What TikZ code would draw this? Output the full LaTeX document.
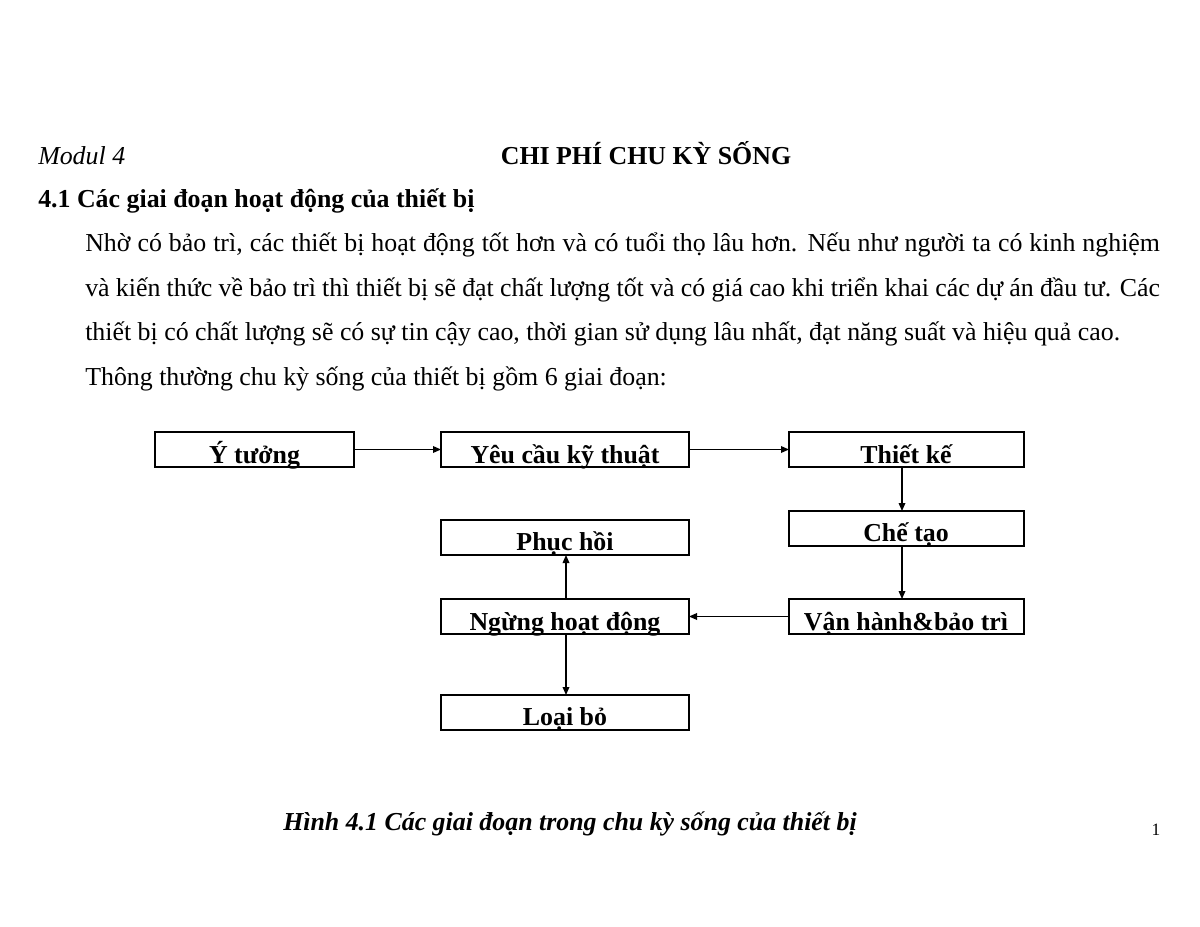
\documentclass[tikz,border=0pt]{standalone}
\usepackage{fontspec}
\setmainfont{Liberation Serif}
\usetikzlibrary{arrows.meta}
\begin{document}
\begin{tikzpicture}[x=0.75pt,y=-0.75pt,
 txt/.style={font=\fontsize{19.4}{21}\selectfont,inner sep=0pt,anchor=base west},
 bx/.style={draw,line width=0.8pt},
 blabel/.style={font=\fontsize{19.4}{21}\selectfont\bfseries,inner sep=0pt,anchor=base},
 arr/.style={-{Triangle[length=6pt,width=5pt]},line width=0.9pt}]
\useasboundingbox (0,0) rectangle (1200,927);
\node[txt,font=\fontsize{19.4}{21}\selectfont\itshape] (mod) at (38,165) {Modul 4};
\node[txt,anchor=base,font=\fontsize{19.4}{21}\selectfont\bfseries] (title) at (646,165) {CHI PHÍ CHU KỲ SỐNG};
\node[txt,font=\fontsize{19.4}{21}\selectfont\bfseries] (sec) at (38,208) {4.1 Các giai đoạn hoạt động của thiết bị};
\node[txt] (p1) at (85,252) {\makebox[806pt][s]{Nhờ có bảo trì, các thiết bị hoạt động tốt hơn và có tuổi thọ lâu hơn. Nếu như người ta có kinh nghiệm}};
\node[txt] (p2) at (85,297) {\makebox[806pt][s]{và kiến thức về bảo trì thì thiết bị sẽ đạt chất lượng tốt và có giá cao khi triển khai các dự án đầu tư. Các}};
\node[txt] (p3) at (85,341) {thiết bị có chất lượng sẽ có sự tin cậy cao, thời gian sử dụng lâu nhất, đạt năng suất và hiệu quả cao.};
\node[txt] (p4) at (85,386) {Thông thường chu kỳ sống của thiết bị gồm 6 giai đoạn:};

\draw[bx] (155,432) rectangle (354,467);
\node[blabel] (la) at (254.5,463) {Ý tưởng};
\draw[bx] (441,432) rectangle (689,467);
\node[blabel] (lb) at (565,463) {Yêu cầu kỹ thuật};
\draw[bx] (789,432) rectangle (1024,467);
\node[blabel] (lc) at (906,463) {Thiết kế};
\draw[bx] (789,511) rectangle (1024,546);
\node[blabel] (ld) at (906,541) {Chế tạo};
\draw[bx] (789,599) rectangle (1024,634);
\node[blabel] (le) at (906,630) {Vận hành\&bảo trì};
\draw[bx] (441,599) rectangle (689,634);
\node[blabel] (lf) at (565,630) {Ngừng hoạt động};
\draw[bx] (441,520) rectangle (689,555);
\node[blabel] (lg) at (565,550) {Phục hồi};
\draw[bx] (441,695) rectangle (689,730);
\node[blabel] (lh) at (565,725) {Loại bỏ};

\coordinate (y1) at (354,449.5); \coordinate (y2) at (441,449.5);
\coordinate (k1) at (689,449.5); \coordinate (k2) at (789,449.5);
\coordinate (t1) at (902,467); \coordinate (t2) at (902,511);
\coordinate (c1) at (902,546); \coordinate (c2) at (902,599);
\coordinate (v1) at (789,616.5); \coordinate (v2) at (689,616.5);
\coordinate (n1) at (566,599); \coordinate (n2) at (566,555);
\coordinate (n3) at (566,634); \coordinate (n4) at (566,695);
\draw[arr] (y1)--(y2); \draw[arr] (k1)--(k2); \draw[arr] (t1)--(t2);
\draw[arr] (c1)--(c2); \draw[arr] (v1)--(v2); \draw[arr] (n1)--(n2); \draw[arr] (n3)--(n4);

\node[txt,anchor=base,font=\fontsize{19.4}{21}\selectfont\bfseries\itshape] (cap) at (570,830) {Hình 4.1 Các giai đoạn trong chu kỳ sống của thiết bị};
\node[txt,anchor=base,font=\fontsize{13}{14}\selectfont] (pg) at (1156,835) {1};
\end{tikzpicture}
\end{document}
